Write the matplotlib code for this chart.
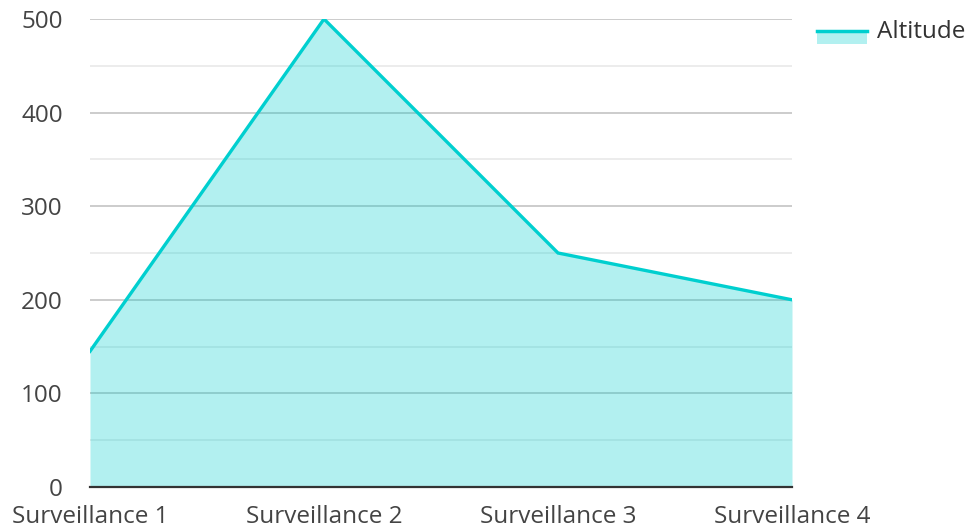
import matplotlib
matplotlib.use("Agg")
import matplotlib.pyplot as plt
from matplotlib.lines import Line2D
from matplotlib.patches import Rectangle

categories = ["Surveillance 1", "Surveillance 2", "Surveillance 3", "Surveillance 4"]
altitude = [145, 500, 250, 200]
y_ticks = [0, 100, 200, 300, 400, 500]
series_name = "Altitude"

plt.rcParams['font.family'] = ['Open Sans', 'DejaVu Sans']

W, H = 970, 528
fig = plt.figure(figsize=(W / 100, H / 100), dpi=100)
ax = fig.add_axes([90 / W, 1 - 487 / H, (792 - 90) / W, (487 - 19) / H])

x = list(range(len(categories)))
line_color = "#00cfcf"
ax.fill_between(x, altitude, 0, color=line_color, alpha=0.3, lw=0, zorder=2)
ax.plot(x, altitude, color=line_color, lw=2.4, zorder=3, solid_joinstyle="miter")

ax.set_xlim(0, len(categories) - 1)
ax.set_ylim(0, 500)
ax.set_yticks(y_ticks)
ax.set_yticks([50, 150, 250, 350, 450], minor=True)
ax.set_xticks(x)
ax.set_xticklabels(categories)
ax.grid(axis="y", which="major", color="#c8c8c8", lw=1.3, zorder=1)
ax.grid(axis="y", which="minor", color="#ebebeb", lw=1.3, zorder=1)
ax.set_axisbelow(True)
for s in ["top", "right", "left"]:
    ax.spines[s].set_visible(False)
ax.spines["bottom"].set_color("#333333")
ax.spines["bottom"].set_linewidth(1.6)
ax.spines["bottom"].set_zorder(4)
ax.tick_params(axis="both", which="both", length=0, labelsize=17.5, labelcolor="#444444")
ax.tick_params(axis="y", pad=19.5)
ax.tick_params(axis="x", pad=13)

# legend
fig.patches.append(Rectangle((817 / W, 1 - 43.5 / H), 50 / W, 11.5 / H, transform=fig.transFigure,
                             facecolor=line_color, alpha=0.3, lw=0))
fig.lines.append(Line2D([817 / W, 867 / W], [1 - 31 / H, 1 - 31 / H], transform=fig.transFigure,
                        color=line_color, lw=2.5))
fig.text(877 / W, 1 - 32 / H, series_name, fontsize=17.5, color="#333333", va="center", ha="left")

fig.savefig("out.png", dpi=100)
